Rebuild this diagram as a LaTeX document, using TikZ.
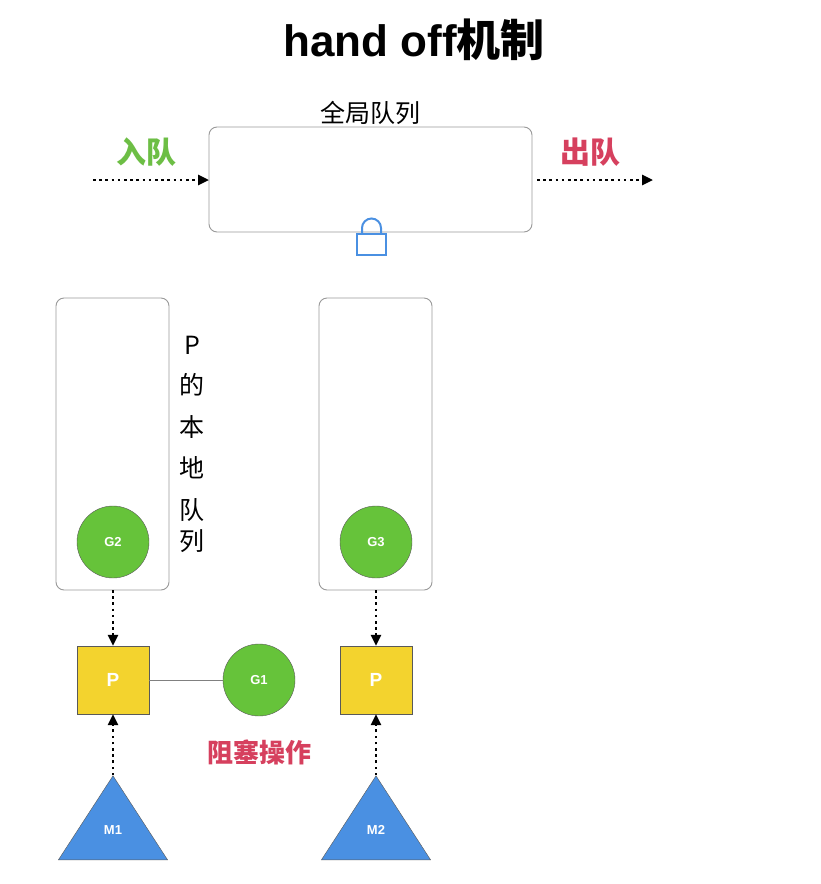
\documentclass[tikz,border=0pt]{standalone}
\usepackage{fontspec}
\setmainfont{Liberation Sans}
\newfontfamily\cjk{Noto Sans CJK SC}
\usetikzlibrary{arrows.meta,shapes.geometric}
\definecolor{gg}{HTML}{66C33A}
\definecolor{gtext}{HTML}{6DBE45}
\definecolor{rtext}{HTML}{D6405E}
\definecolor{yy}{HTML}{F3D32E}
\definecolor{bb}{HTML}{4A90E2}
\begin{document}
\begin{tikzpicture}[x=1pt,y=-1pt,
  box/.style={draw=gray!80,rounded corners=8pt,line width=0.9pt},
  gor/.style={circle,fill=gg,draw=gray!70!black,minimum size=72pt,inner sep=0,text=white,font=\bfseries\fontsize{13}{13}\selectfont},
  proc/.style={rectangle,fill=yy,draw=gray!70!black,minimum width=72pt,minimum height=68pt,text=white,font=\bfseries\fontsize{19}{19}\selectfont},
  mach/.style={isosceles triangle,shape border rotate=90,isosceles triangle apex angle=66,fill=bb,draw=gray!70!black,minimum height=84pt,inner sep=0,text=white,font=\bfseries\fontsize{13}{13}\selectfont},
  dots/.style={line width=2.6pt,dash pattern=on 2.6pt off 3.6pt,-{Triangle[length=11pt,width=10pt]}}]
\useasboundingbox (0,0) rectangle (820,884);
\fill[white] (0,0) rectangle (820,884);
\node[font=\bfseries\fontsize{44}{44}\selectfont] (title) at (414,40) {hand off{\cjk 机制}};
\node[font=\cjk\fontsize{25}{25}\selectfont] (gl) at (370,113) {全局队列};
\draw[box] (209,127) rectangle (532,232);
\coordinate (gin) at (209,180); \coordinate (gout) at (532,180);
\coordinate (s1) at (93,180); \coordinate (e1) at (653,180);
\node[font=\cjk\bfseries\fontsize{30}{30}\selectfont,text=gtext] (in) at (146,152) {入队};
\node[font=\cjk\bfseries\fontsize{30}{30}\selectfont,text=rtext] (out) at (590,152) {出队};
\draw[dots] (s1) -- (gin);
\draw[dots] ([xshift=5pt]gout) -- (e1);
% lock
\draw[bb,line width=2pt] (362,234) -- (362,228) arc (180:360:9.5) -- (381,234);
\draw[bb,line width=2pt,fill=white] (357,234) rectangle (386,255);
% local queues
\draw[box] (56,298) rectangle (169,590);
\draw[box] (319,298) rectangle (432,590);
\coordinate (q1) at (113,590); \coordinate (q2) at (376,590);
\foreach \t/\y in {P/345,的/385,本/427,地/468,队/510,列/541}
  \node[font=\cjk\fontsize{25}{25}\selectfont] at (192,\y) {\t};
\node[gor] (g2) at (113,542) {G2};
\node[gor] (g3) at (376,542) {G3};
\node[proc] (p1) at (113,680) {P};
\node[proc] (p2) at (376,680) {P};
\node[gor] (g1) at (259,680) {G1};
\draw[gray] (p1.east) -- (g1.west);
\node[font=\cjk\bfseries\fontsize{26}{26}\selectfont,text=rtext] (blk) at (259,752) {阻塞操作};
\node[mach,anchor=south] (m1) at (113,860) {};
\node at (113,830) [text=white,font=\bfseries\fontsize{13}{13}\selectfont] {M1};
\node[mach,anchor=south] (m2) at (376,860) {};
\node at (376,830) [text=white,font=\bfseries\fontsize{13}{13}\selectfont] {M2};
\draw[dots] (q1) -- (p1.north);
\draw[dots] (q2) -- (p2.north);
\draw[dots] (m1.apex) -- (p1.south);
\draw[dots] (m2.apex) -- (p2.south);
\end{tikzpicture}
\end{document}
